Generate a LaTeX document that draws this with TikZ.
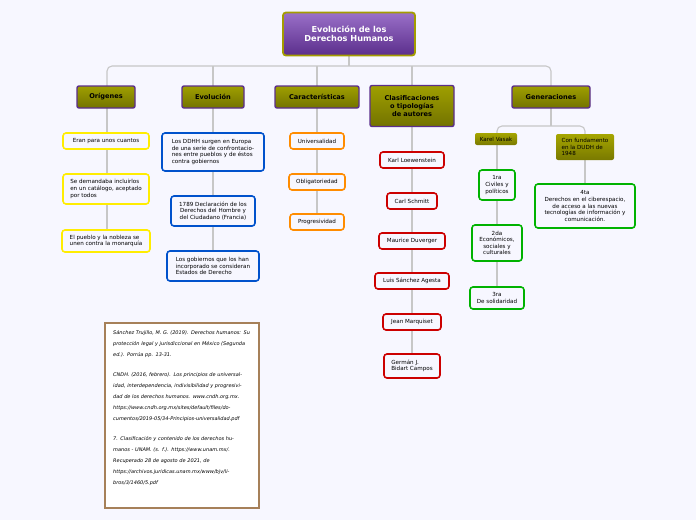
\documentclass[tikz,border=0pt]{standalone}
\usepackage{fontspec}
\setmainfont{DejaVu Sans}
\usepackage{ragged2e}
\definecolor{purA}{HTML}{9A70C8}
\definecolor{purB}{HTML}{5B2E8C}
\begin{document}
\begin{tikzpicture}[x=1pt,y=-1pt,
  every node/.style={font=\fontsize{5.6}{6.6}\selectfont, align=center, inner sep=2pt},
  con/.style={draw=black!22, line width=1.1pt, rounded corners=5pt},
  root/.style={draw=olive!80!yellow, line width=1.8pt, rounded corners=3pt, top color=purA, bottom color=purB, text=white, font=\fontsize{8.2}{9.5}\selectfont\bfseries, minimum width=132pt, minimum height=43pt},
  cat/.style={draw=purB, line width=1.4pt, rounded corners=2pt, top color=olive!75!yellow, bottom color=olive!90!black, font=\fontsize{6.6}{7.6}\selectfont\bfseries, minimum height=22pt},
  leaf/.style={draw=#1, line width=1.6pt, rounded corners=3pt, fill=white!97!blue},
  olv/.style={rounded corners=2pt, top color=olive!70!yellow, bottom color=olive!95!black, text=black}
]
\fill[blue!3!white] (0,0) rectangle (696,520);
\useasboundingbox (0,0) rectangle (696,520);
% connectors
\coordinate (h) at (349,66);
\draw[con] (349,56) -- (h);
\draw[con] (107,86) -- (107,66) -- (551,66) -- (551,86);
\draw[con] (213,66) -- (213,86);
\draw[con] (317,66) -- (317,86);
\draw[con] (412,66) -- (412,86);
\draw[con] (107,108) -- (107,252);
\draw[con] (213,108) -- (213,281);
\draw[con] (317,108) -- (317,230);
\draw[con] (412,126) -- (412,378);
\draw[con] (551,108) -- (551,126);
\draw[con] (497,139) -- (497,126) -- (585,126) -- (585,139);
\draw[con] (497,145) -- (497,298);
\draw[con] (585,160) -- (585,206);

\node[root] (r) at (349,34) {Evolución de los\\Derechos Humanos};
\node[cat, minimum width=58pt] (o) at (106,97) {Orígenes};
\node[cat, minimum width=62pt] (e) at (213,97) {Evolución};
\node[cat, minimum width=84pt] (c) at (317,97) {Características};
\node[cat, minimum width=84pt, minimum height=41pt, text width=74pt] (cl) at (412,106) {Clasificaciones o tipologías de autores};
\node[cat, minimum width=78pt] (g) at (551,97) {Generaciones};

\node[leaf=yellow!95!orange, minimum width=86pt, minimum height=16pt] (o1) at (106,141) {Eran para unos cuantos};
\node[leaf=yellow!95!orange, minimum width=86pt, minimum height=30pt, align=left] (o2) at (106,189) {Se demandaba incluirlos\\en un catálogo, aceptado\\por todos};
\node[leaf=yellow!95!orange, minimum width=88pt, minimum height=22pt, align=left] (o3) at (106,241) {El pueblo y la nobleza se\\unen contra la monarquía};

\node[leaf=blue!60!cyan!80!black, minimum width=102pt, minimum height=38pt, align=left] (e1) at (213,152) {Los DDHH surgen en Europa\\de una serie de confrontacio-\\nes entre pueblos y de éstos\\contra gobiernos};
\node[leaf=blue!60!cyan!80!black, minimum width=84pt, minimum height=30pt] (e2) at (213,211) {1789 Declaración de los\\Derechos del Hombre y\\del Ciudadano (Francia)};
\node[leaf=blue!60!cyan!80!black, minimum width=92pt, minimum height=30pt, align=left] (e3) at (213,266) {Los gobiernos que los han\\incorporado se consideran\\Estados de Derecho};

\node[leaf=orange!90!yellow, minimum width=54pt, minimum height=16pt] (c1) at (317,141) {Universalidad};
\node[leaf=orange!90!yellow, minimum width=56pt, minimum height=16pt] (c2) at (317,182) {Obligatoriedad};
\node[leaf=orange!90!yellow, minimum width=54pt, minimum height=16pt] (c3) at (317,222) {Progresividad};

\node[leaf=red!80!black, minimum width=64pt, minimum height=16pt] (k1) at (412,160) {Karl Loewenstein};
\node[leaf=red!80!black, minimum width=50pt, minimum height=16pt] (k2) at (412,201) {Carl Schmitt};
\node[leaf=red!80!black, minimum width=66pt, minimum height=16pt] (k3) at (412,241) {Maurice Duverger};
\node[leaf=red!80!black, minimum width=74pt, minimum height=16pt] (k4) at (412,281) {Luis Sánchez Agesta};
\node[leaf=red!80!black, minimum width=58pt, minimum height=16pt] (k5) at (412,322) {Jean Marquiset};
\node[leaf=red!80!black, minimum width=56pt, minimum height=24pt, align=left] (k6) at (412,366) {Germán J.\\Bidart Campos};

\node[olv, minimum width=42pt, minimum height=12pt] (kv) at (496,139) {Karel Vasak};
\node[olv, minimum width=58pt, minimum height=26pt, align=left] (cf) at (585,147) {Con fundamento\\en la DUDH de\\1948};
\node[leaf=green!70!black, minimum width=36pt, minimum height=30pt] (g1) at (497,185) {1ra\\Civiles y\\políticos};
\node[leaf=green!70!black, minimum width=50pt, minimum height=36pt] (g2) at (497,243) {2da\\Económicos,\\sociales y\\culturales};
\node[leaf=green!70!black, minimum width=54pt, minimum height=22pt] (g3) at (497,298) {3ra\\De solidaridad};
\node[leaf=green!70!black, minimum width=100pt, minimum height=44pt] (g4) at (585,206) {4ta\\Derechos en el ciberespacio,\\de acceso a las nuevas\\tecnologías de información y\\comunicación.};

\node[draw=brown!60!gray, line width=2.2pt, fill=white, minimum width=154pt, minimum height=185pt, anchor=north west] (ref) at (104,322) {};
\node[anchor=north west, inner sep=0pt, text width=142pt, align=left, font=\fontsize{5}{11}\selectfont\itshape\RaggedRight] (reftext) at (113,330) {Sánchez Trujillo, M. G. (2019). Derechos humanos: Su protección legal y jurisdiccional en México (Segunda ed.). Porrúa pp. 13-31.\\[9pt]
CNDH. (2016, febrero). Los principios de universalidad, interdependencia, indivisibilidad y progresividad de los derechos humanos. www.cndh.org.mx. https://www.cndh.org.mx/sites/default/files/do\-cumentos/2019-05/34-Principios-universalidad.pdf\\[9pt]
7. Clasificación y contenido de los derechos humanos - UNAM. (s. f.). https://www.unam.mx/. Recuperado 28 de agosto de 2021, de https://archivos.juridicas.unam.mx/www/bjv/li\-bros/3/1460/5.pdf};
\end{tikzpicture}
\end{document}
